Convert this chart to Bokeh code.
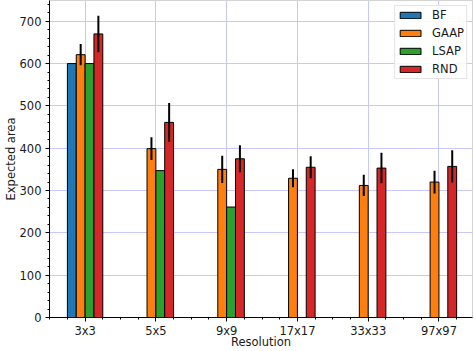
from bokeh.plotting import figure
from bokeh.models import FixedTicker, Range1d, Legend, LegendItem
from bokeh.embed import file_html
from bokeh.resources import INLINE

resolutions = ["3x3", "5x5", "9x9", "17x17", "33x33", "97x97"]
methods = ["BF", "GAAP", "LSAP", "RND"]
colors = ["#1f77b4", "#ff7f0e", "#2ca02c", "#d62728"]

bf = [600, None, None, None, None, None]
bf_err = [0, None, None, None, None, None]
gaap = [621, 399, 350, 329, 312, 320]
gaap_err = [25, 27, 32, 21, 25, 27]
lsap = [600, 347, 261, None, None, None]
lsap_err = [0, 0, 0, None, None, None]
rnd = [670, 461, 375, 355, 353, 357]
rnd_err = [43, 46, 32, 26, 36, 38]

series = [bf, gaap, lsap, rnd]
errors = [bf_err, gaap_err, lsap_err, rnd_err]

y_ticks = [0, 100, 200, 300, 400, 500, 600, 700]

x_title = "Resolution"
y_title = "Expected area"

FONT = "DejaVu Sans"
FS = "11.5px"
BAR_W = 0.125
offsets = [-1.5 * BAR_W, -0.5 * BAR_W, 0.5 * BAR_W, 1.5 * BAR_W]

p = figure(width=474, height=351, output_backend="svg", toolbar_location=None,
           x_range=Range1d(-0.503, 5.474), y_range=Range1d(0, 749),
           min_border_left=47, min_border_right=2, min_border_top=0, min_border_bottom=34)

p.background_fill_color = "white"
p.border_fill_color = "white"
p.outline_line_color = "#d4d4d4"
p.outline_line_width = 1

# grid
grid_color = "#c8c8ff"
xt = FixedTicker(ticks=list(range(len(resolutions))),
                 minor_ticks=[k * 0.25 - 0.5 for k in range(0, 24) if (k % 4) != 2])
yt = FixedTicker(ticks=y_ticks, minor_ticks=list(range(0, 749, 20)))
p.xaxis.ticker = xt
p.yaxis.ticker = yt
p.xgrid.ticker = FixedTicker(ticks=list(range(len(resolutions))))
p.ygrid.ticker = FixedTicker(ticks=y_ticks)
for g in (p.xgrid, p.ygrid):
    g.grid_line_color = grid_color
    g.grid_line_width = 1

p.xaxis.major_label_overrides = {i: r for i, r in enumerate(resolutions)}

for ax in (p.xaxis, p.yaxis):
    ax.axis_line_color = "black"
    ax.major_tick_line_color = "black"
    ax.minor_tick_line_color = "black"
    ax.major_tick_out = 4
    ax.major_tick_in = 0
    ax.minor_tick_out = 2
    ax.minor_tick_in = 0
    ax.major_label_text_font = FONT
    ax.major_label_text_font_size = FS
    ax.major_label_text_color = "#1a1a1a"
    ax.axis_label_text_font = FONT
    ax.axis_label_text_font_size = FS
    ax.axis_label_text_font_style = "normal"
    ax.axis_label_text_color = "#1a1a1a"

p.xaxis.axis_label = x_title
p.yaxis.axis_label = y_title
p.xaxis.major_label_standoff = 2
p.xaxis.axis_label_standoff = -6
p.yaxis.major_label_standoff = 4
p.yaxis.axis_label_standoff = -1

items = []
for m, vals, errs, off, col in zip(methods, series, errors, offsets, colors):
    xs = [i + off for i, v in enumerate(vals) if v is not None]
    ys = [v for v in vals if v is not None]
    es = [e for v, e in zip(vals, errs) if v is not None]
    r = p.vbar(x=xs, top=ys, bottom=0, width=BAR_W, fill_color=col,
               line_color="black", line_width=1)
    items.append(LegendItem(label=m, renderers=[r]))
    ex = [x for x, e in zip(xs, es) if e]
    elo = [y - e for y, e in zip(ys, es) if e]
    ehi = [y + e for y, e in zip(ys, es) if e]
    if ex:
        p.segment(x0=ex, y0=elo, x1=ex, y1=ehi, line_color="black", line_width=2)

legend = Legend(items=items, location="top_right")
legend.label_text_font = FONT
legend.label_text_font_size = FS
legend.label_text_color = "#1a1a1a"
legend.glyph_width = 26
legend.glyph_height = 8
legend.label_height = 14
legend.spacing = 4
legend.padding = 2
legend.margin = 5
legend.label_standoff = 9
legend.border_line_color = "#cccccc"
legend.border_line_width = 1
legend.background_fill_color = "white"
legend.background_fill_alpha = 0.85
p.add_layout(legend)

open("out.html", "w").write(file_html(p, INLINE))
